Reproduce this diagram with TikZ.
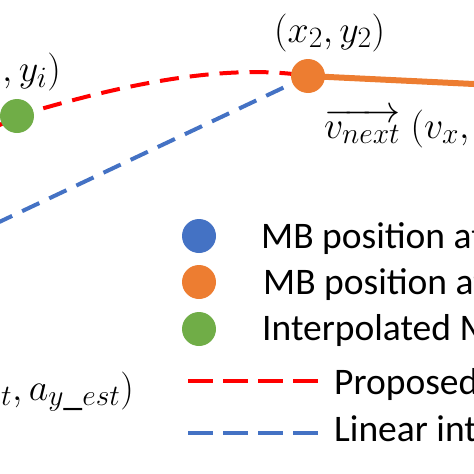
\RequirePackage{fix-cm}
\documentclass[tikz,border=0pt]{standalone}
\usepackage[no-math]{fontspec}
\setmainfont{Carlito}
\DeclareMathSizes{38}{38}{29.5}{22}
\usetikzlibrary{backgrounds}
\definecolor{mbblue}{HTML}{4472C4}
\definecolor{mborange}{HTML}{ED7D31}
\definecolor{mbgreen}{HTML}{70AD47}
\definecolor{mbred}{HTML}{FF0000}
\begin{document}
\begin{tikzpicture}[x=1pt,y=-1pt,
  dot/.style={circle, inner sep=0pt, minimum size=34pt, fill=#1},
  dashred/.style={draw=mbred, line width=4pt, dash pattern=on 19pt off 11pt},
  dashblue/.style={draw=mbblue, line width=4pt, dash pattern=on 19pt off 11pt},
  legred/.style={draw=mbred, line width=4pt, dash pattern=on 25pt off 10pt},
  legblue/.style={draw=mbblue, line width=4pt, dash pattern=on 25pt off 10pt},
  lab/.style={font=\fontsize{37.5}{40}\selectfont, inner sep=0pt},
  mathlab/.style={font=\fontsize{38}{42}\selectfont, inner sep=0pt}]
\useasboundingbox (0,0) rectangle (474,474);
\clip (0,0) rectangle (474,474);
% points
\node[dot=mbgreen] (gi) at (17,116) {};
\node[dot=mborange] (o2) at (308,76) {};
\coordinate (redstart) at (-12,131);
\coordinate (bluestart) at (-5,224);
\coordinate (orangeend) at (480,84.3);
\begin{scope}[on background layer]
  \draw[dashred] (redstart) -- (gi.center) .. controls (110,88) and (220,62) .. (o2.center);
  \draw[dashblue] (bluestart) -- (o2.center);
  \draw[mborange, line width=6pt] (o2.center) -- (orangeend);
\end{scope}
% labels
\node[mathlab, anchor=base east] (pi) at (61,81) {$(x_i, y_i)$};
\node[mathlab, anchor=base west] (p2) at (274,42) {$(x_2, y_2)$};
\node[mathlab, anchor=base west] (vn) at (324,138) {$\overrightarrow{v_{next}}\;(v_x, v_y)$};
\node[mathlab, anchor=base east] (ae) at (134,400) {$(a_{x\_est}, a_{y\_est})$};
% legend
\node[dot=mbblue] (l1) at (199,236) {};
\node[dot=mborange] (l2) at (199,282) {};
\node[dot=mbgreen] (l3) at (199,329) {};
\coordinate (r1) at (188,381); \coordinate (r2) at (318,381);
\coordinate (b1) at (188,433); \coordinate (b2) at (318,433);
\draw[legred] (r1) -- (r2);
\draw[legblue] (b1) -- (b2);
\node[lab, anchor=base west] (t1) at (261,248) {MB position at $t_1$};
\node[lab, anchor=base west] (t2) at (263,294) {MB position at $t_2$};
\node[lab, anchor=base west] (t3) at (262,340) {Interpolated MB position};
\node[lab, anchor=base west] (t4) at (334,394) {Proposed method};
\node[lab, anchor=base west] (t5) at (334,441) {Linear interpolation};
\end{tikzpicture}
\end{document}
